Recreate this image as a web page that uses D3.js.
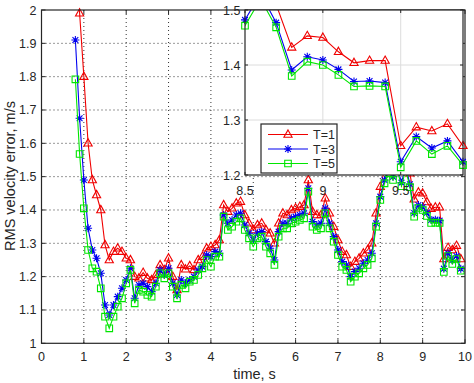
<!DOCTYPE html>
<html>
<head>
<meta charset="utf-8">
<script src="https://cdn.jsdelivr.net/npm/d3@7"></script>
<style>
  body { margin: 0; background: #fff; }
  text { font-family: "Liberation Sans", Arial, sans-serif; fill: #262626; }
</style>
</head>
<body>
<svg id="chart" width="474" height="383"></svg>
<script>
// time axis, s
const times = [0.8,0.9,1.0,1.1,1.2,1.3,1.4,1.5,1.6,1.7,
  1.8,1.9,2.0,2.1,2.2,2.3,2.4,2.5,2.6,2.7,
  2.8,2.9,3.0,3.1,3.2,3.3,3.4,3.5,3.6,3.7,
  3.8,3.9,4.0,4.1,4.2,4.3,4.4,4.5,4.6,4.7,
  4.8,4.9,5.0,5.1,5.2,5.3,5.4,5.5,5.6,5.7,
  5.8,5.9,6.0,6.1,6.2,6.3,6.4,6.5,6.6,6.7,
  6.8,6.9,7.0,7.1,7.2,7.3,7.4,7.5,7.6,7.7,
  7.8,7.9,8.0,8.1,8.2,8.3,8.4,8.5,8.6,8.7,
  8.8,8.9,9.0,9.1,9.2,9.3,9.4,9.5,9.6,9.7,
  9.8,9.9];

const rmsT1 = [2.25,1.99,1.80,1.60,1.49,1.445,1.40,1.295,1.25,1.275,
  1.285,1.275,1.255,1.25,1.20,1.195,1.212,1.195,1.19,1.205,
  1.235,1.22,1.255,1.20,1.16,1.235,1.222,1.232,1.22,1.25,
  1.26,1.285,1.29,1.295,1.31,1.415,1.395,1.405,1.42,1.425,
  1.385,1.36,1.34,1.355,1.36,1.34,1.33,1.30,1.36,1.39,
  1.385,1.40,1.405,1.41,1.415,1.49,1.395,1.385,1.385,1.435,
  1.39,1.35,1.31,1.275,1.265,1.23,1.245,1.255,1.27,1.28,
  1.30,1.39,1.47,1.52,1.55,1.53,1.56,1.55,1.56,1.51,
  1.432,1.453,1.45,1.424,1.404,1.408,1.408,1.253,1.287,1.28,
  1.293,1.253];

const rmsT3 = [1.91,1.675,1.49,1.345,1.28,1.255,1.21,1.115,1.085,1.115,
  1.14,1.165,1.19,1.225,1.135,1.175,1.18,1.17,1.155,1.18,
  1.22,1.205,1.225,1.18,1.145,1.19,1.18,1.19,1.20,1.22,
  1.23,1.265,1.26,1.275,1.27,1.385,1.36,1.37,1.385,1.39,
  1.355,1.33,1.31,1.33,1.335,1.305,1.285,1.25,1.335,1.36,
  1.36,1.375,1.38,1.385,1.39,1.465,1.365,1.355,1.36,1.405,
  1.36,1.32,1.28,1.245,1.235,1.20,1.215,1.225,1.24,1.25,
  1.27,1.36,1.44,1.49,1.52,1.50,1.53,1.482,1.53,1.477,
  1.391,1.415,1.409,1.392,1.37,1.371,1.368,1.224,1.27,1.249,
  1.262,1.224];

const rmsT5 = [1.792,1.568,1.405,1.28,1.225,1.215,1.165,1.08,1.045,1.08,
  1.11,1.135,1.18,1.22,1.12,1.16,1.155,1.145,1.14,1.17,
  1.21,1.195,1.21,1.17,1.135,1.175,1.165,1.185,1.19,1.205,
  1.225,1.25,1.23,1.26,1.26,1.38,1.34,1.35,1.365,1.375,
  1.34,1.315,1.29,1.315,1.32,1.29,1.27,1.235,1.32,1.345,
  1.345,1.36,1.365,1.37,1.375,1.455,1.35,1.34,1.345,1.39,
  1.345,1.305,1.265,1.23,1.22,1.185,1.20,1.21,1.225,1.235,
  1.255,1.35,1.43,1.48,1.51,1.49,1.52,1.4715,1.52,1.4685,
  1.38,1.406,1.40,1.382,1.361,1.362,1.361,1.214,1.262,1.238,
  1.253,1.218];

const seriesNames = ['T=1', 'T=3', 'T=5'];
const xTicks = [0,1,2,3,4,5,6,7,8,9,10];
const yTicks = [1,1.1,1.2,1.3,1.4,1.5,1.6,1.7,1.8,1.9,2];
const insetXTicks = [8.5, 9, 9.5];
const insetYTicks = [1.2, 1.3, 1.4, 1.5];

const colors = ['#f00000', '#0000f0', '#00e600'];
const markerPaths = [
  'M0,-4.6L4.1,2.7L-4.1,2.7Z',
  'M-4,0H4M0,-4V4M-2.9,-2.9L2.9,2.9M-2.9,2.9L2.9,-2.9',
  'M-3.3,-3.3H3.3V3.3H-3.3Z'
];
const allSeries = [rmsT1, rmsT3, rmsT5].map((vals, i) => ({
  name: seriesNames[i],
  points: vals.map((v, j) => ({ t: times[j], v: v }))
}));

const svg = d3.select('#chart');
const axisColor = '#262626';
const fmt = d => d3.format('~g')(d);

// ---------- main axes ----------
const main = { left: 41.5, right: 465, top: 10, bottom: 343.3 };
const x = d3.scaleLinear().domain([0, 10]).range([main.left, main.right]);
const y = d3.scaleLinear().domain([1, 2]).range([main.bottom, main.top]);

svg.append('defs').append('clipPath').attr('id', 'mainClip')
  .append('rect').attr('x', main.left).attr('y', main.top)
  .attr('width', main.right - main.left).attr('height', main.bottom - main.top);

const grid = svg.append('g');
grid.selectAll('.vg').data(xTicks.slice(1, -1)).join('line')
  .attr('x1', d => x(d)).attr('x2', d => x(d))
  .attr('y1', main.top).attr('y2', main.bottom)
  .attr('stroke', '#333').attr('stroke-width', 1).attr('stroke-dasharray', '1,3');
grid.selectAll('.hg').data(yTicks.slice(1, -1)).join('line')
  .attr('y1', d => y(d)).attr('y2', d => y(d))
  .attr('x1', main.left).attr('x2', main.right)
  .attr('stroke', '#333').attr('stroke-width', 1).attr('stroke-dasharray', '1,3');

function drawSeries(g, xs, ys, clipId, yMax) {
  const line = d3.line().x(d => xs(d.t)).y(d => ys(d.v));
  allSeries.forEach((s, i) => {
    const sg = g.append('g');
    sg.append('path').datum(s.points)
      .attr('d', line).attr('fill', 'none')
      .attr('stroke', colors[i]).attr('stroke-width', 1.1)
      .attr('clip-path', 'url(#' + clipId + ')');
    sg.selectAll('.mk').data(s.points.filter(d => d.v <= yMax && d.t >= xs.domain()[0] && d.t <= xs.domain()[1]))
      .join('path')
      .attr('transform', d => `translate(${xs(d.t)},${ys(d.v)})`)
      .attr('d', markerPaths[i])
      .attr('fill', 'none').attr('stroke', colors[i]).attr('stroke-width', 1.1);
  });
}
drawSeries(svg.append('g'), x, y, 'mainClip', 2);

// frame and inward ticks
svg.append('rect').attr('x', main.left).attr('y', main.top)
  .attr('width', main.right - main.left).attr('height', main.bottom - main.top)
  .attr('fill', 'none').attr('stroke', axisColor).attr('stroke-width', 1.2);
const ticks = svg.append('g').attr('stroke', axisColor).attr('stroke-width', 1);
xTicks.forEach(d => {
  ticks.append('line').attr('x1', x(d)).attr('x2', x(d)).attr('y1', main.bottom).attr('y2', main.bottom - 4);
  ticks.append('line').attr('x1', x(d)).attr('x2', x(d)).attr('y1', main.top).attr('y2', main.top + 4);
});
yTicks.forEach(d => {
  ticks.append('line').attr('y1', y(d)).attr('y2', y(d)).attr('x1', main.left).attr('x2', main.left + 4);
  ticks.append('line').attr('y1', y(d)).attr('y2', y(d)).attr('x1', main.right).attr('x2', main.right - 4);
});

svg.append('g').selectAll('text').data(xTicks).join('text')
  .attr('x', d => x(d)).attr('y', 361).attr('text-anchor', 'middle')
  .attr('font-size', 12.5).text(fmt);
svg.append('g').selectAll('text').data(yTicks).join('text')
  .attr('x', 36.5).attr('y', d => y(d) + 4.5).attr('text-anchor', 'end')
  .attr('font-size', 12.5).text(fmt);

svg.append('text').attr('x', 254.5).attr('y', 378.5).attr('text-anchor', 'middle')
  .attr('font-size', 14.5).text('time, s');
svg.append('text').attr('transform', 'translate(15,176) rotate(-90)')
  .attr('text-anchor', 'middle').attr('font-size', 14.5).text('RMS velocity error, m/s');

// ---------- inset ----------
const ins = { left: 245, right: 463, top: 10, bottom: 175 };
const xi = d3.scaleLinear().domain([8.5, 9.9]).range([ins.left, ins.right]);
const yi = d3.scaleLinear().domain([1.2, 1.5]).range([ins.bottom, ins.top]);

svg.select('defs').append('clipPath').attr('id', 'insetClip')
  .append('rect').attr('x', ins.left).attr('y', ins.top)
  .attr('width', ins.right - ins.left).attr('height', ins.bottom - ins.top);

const inset = svg.append('g');
inset.append('rect').attr('x', ins.left).attr('y', ins.top)
  .attr('width', ins.right - ins.left).attr('height', ins.bottom - ins.top)
  .attr('fill', '#fff');
inset.selectAll('.ivg').data([9, 9.5]).join('line')
  .attr('x1', d => xi(d)).attr('x2', d => xi(d))
  .attr('y1', ins.top).attr('y2', ins.bottom)
  .attr('stroke', '#dcdcdc').attr('stroke-width', 1);
inset.selectAll('.ihg').data([1.3, 1.4]).join('line')
  .attr('y1', d => yi(d)).attr('y2', d => yi(d))
  .attr('x1', ins.left).attr('x2', ins.right)
  .attr('stroke', '#dcdcdc').attr('stroke-width', 1);

drawSeries(inset.append('g'), xi, yi, 'insetClip', 1.5);

inset.append('rect').attr('x', ins.left).attr('y', ins.top)
  .attr('width', ins.right - ins.left).attr('height', ins.bottom - ins.top)
  .attr('fill', 'none').attr('stroke', axisColor).attr('stroke-width', 1.2);
const iticks = inset.append('g').attr('stroke', axisColor).attr('stroke-width', 1);
insetXTicks.forEach(d => {
  iticks.append('line').attr('x1', xi(d)).attr('x2', xi(d)).attr('y1', ins.bottom).attr('y2', ins.bottom - 3);
  iticks.append('line').attr('x1', xi(d)).attr('x2', xi(d)).attr('y1', ins.top).attr('y2', ins.top + 3);
});
insetYTicks.forEach(d => {
  iticks.append('line').attr('y1', yi(d)).attr('y2', yi(d)).attr('x1', ins.left).attr('x2', ins.left + 3);
  iticks.append('line').attr('y1', yi(d)).attr('y2', yi(d)).attr('x1', ins.right).attr('x2', ins.right - 3);
});
inset.append('g').selectAll('text').data(insetXTicks).join('text')
  .attr('x', d => xi(d)).attr('y', 195).attr('text-anchor', 'middle')
  .attr('font-size', 12.5).text(fmt);
inset.append('g').selectAll('text').data(insetYTicks).join('text')
  .attr('x', 240.5).attr('y', d => yi(d) + 4.5).attr('text-anchor', 'end')
  .attr('font-size', 12.5).text(fmt);

// legend
const legend = inset.append('g');
legend.append('rect').attr('x', 261).attr('y', 124).attr('width', 76).attr('height', 49)
  .attr('fill', '#fff').attr('stroke', axisColor).attr('stroke-width', 1.2);
seriesNames.forEach((name, i) => {
  const ly = 134.5 + i * 14.5;
  legend.append('line').attr('x1', 268).attr('x2', 308).attr('y1', ly).attr('y2', ly)
    .attr('stroke', colors[i]).attr('stroke-width', 1.1);
  legend.append('path').attr('transform', `translate(288,${ly})`).attr('d', markerPaths[i])
    .attr('fill', 'none').attr('stroke', colors[i]).attr('stroke-width', 1.1);
  legend.append('text').attr('x', 313).attr('y', ly + 4.5).attr('font-size', 12.5).text(name);
});
</script>
</body>
</html>
